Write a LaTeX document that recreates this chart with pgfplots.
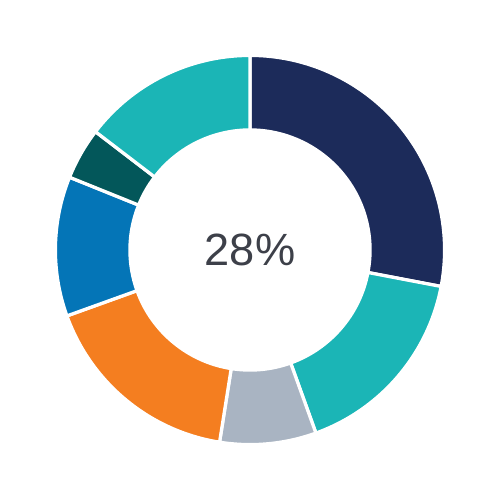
\documentclass[border=0pt]{standalone}
\usepackage{pgfplots}
\pgfplotsset{compat=1.18}
\usepackage{fontspec}
\setmainfont{Liberation Sans}
\definecolor{cnavy}{HTML}{1C2B5A}
\definecolor{cteal}{HTML}{1BB5B6}
\definecolor{cgray}{HTML}{A9B4C2}
\definecolor{corange}{HTML}{F47E20}
\definecolor{cblue}{HTML}{0475B7}
\definecolor{cdkgreen}{HTML}{03575A}
\definecolor{ctext}{HTML}{3D4049}
\begin{document}
\begin{tikzpicture}
\begin{axis}[
  hide axis, scale only axis,
  width=7cm, height=7cm,
  xmin=-1.295, xmax=1.295, ymin=-1.295, ymax=1.295,
  clip=false]
\path (axis cs:-1.295,-1.295) rectangle (axis cs:1.295,1.295);
% shares in percent, clockwise from 12 o'clock
\def\rout{1.008}
\def\rin{0.622}
\foreach \val/\col [remember=\cum as \prev (initially 0)] in
  {28/cnavy, 16.5/cteal, 8/cgray, 17/corange, 11.6/cblue, 4.3/cdkgreen, 14.6/cteal}{
  \pgfmathsetmacro{\cum}{\prev+\val}
  \pgfmathsetmacro{\a}{90-3.6*\prev}
  \pgfmathsetmacro{\b}{90-3.6*\cum}
  \edef\temp{\noexpand\filldraw[fill=\col, draw=white, line width=1.3pt, line join=round]
    (axis cs:{\rout*cos(\a)},{\rout*sin(\a)}) arc[start angle=\a, end angle=\b, radius=\rout]
    -- (axis cs:{\rin*cos(\b)},{\rin*sin(\b)}) arc[start angle=\b, end angle=\a, radius=\rin] -- cycle;}
  \temp
}
\node[text=ctext, font=\fontsize{18}{22}\selectfont] at (axis cs:0,0) {28\%};
\end{axis}
\end{tikzpicture}
\end{document}
